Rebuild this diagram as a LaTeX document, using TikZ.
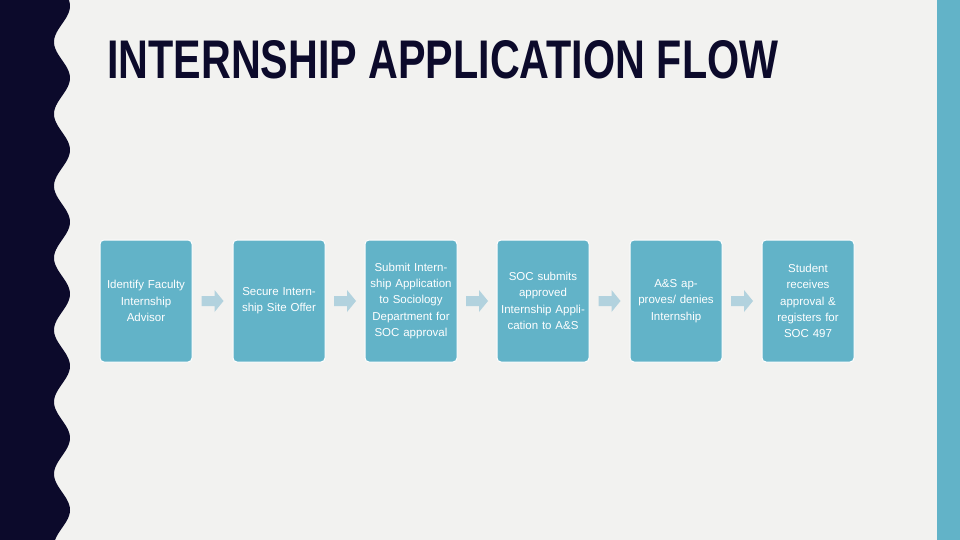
\documentclass[tikz,border=0pt]{standalone}
\usepackage{fontspec}
\setmainfont{Liberation Sans}
\usepackage{graphicx}
\definecolor{bg}{HTML}{F2F2F0}
\definecolor{navy}{HTML}{0C0A2B}
\definecolor{teal}{HTML}{62B3C8}
\definecolor{arr}{HTML}{B2D2DE}
\tikzset{
 stepbox/.style={draw=white, line width=1pt, fill=teal, rounded corners=4pt, minimum width=92pt, minimum height=122pt, text width=84pt, align=center, text=white, font=\fontsize{11.5}{16.3}\selectfont, inner sep=0pt},
 flowarrow/.style={fill=arr, draw=none}
}
\begin{document}
\begin{tikzpicture}[x=1pt,y=-1pt]
\fill[bg] (0,0) rectangle (960,540);
\useasboundingbox (0,0) rectangle (960,540);
\fill[navy] (0,0) -- plot[domain=0:540, samples=200, smooth] ({62+8*sin(\x*5+60)},\x) -- (0,540) -- cycle;
\fill[teal] (937,0) rectangle (960,540);
\node[anchor=north west, inner sep=0pt, text=navy] (title) at (107,40) {\resizebox{671pt}{38pt}{\bfseries INTERNSHIP APPLICATION FLOW}};
\node[stepbox] (s1) at (146,301) {Identify Faculty Internship Advisor};
\node[stepbox] (s2) at (279,301) {Secure Internship Site Offer};
\node[stepbox] (s3) at (411,301) {Submit Internship Application to Sociology Department for SOC approval};
\node[stepbox] (s4) at (543,301) {SOC submits approved Internship Application to A\&S};
\node[stepbox] (s5) at (676,301) {A\&S approves/ denies Internship};
\node[stepbox] (s6) at (808,301) {Student receives approval \& registers for SOC 497};
\foreach \a/\b in {s1/s2,s2/s3,s3/s4,s4/s5,s5/s6}{
  \path (\a.east) -- (\b.west) coordinate[pos=0.5] (m\a);
  \fill[flowarrow] ([shift={(-11,-5)}]m\a) -- ++(13,0) -- ++(0,-6) -- ++(9,11) -- ++(-9,11) -- ++(0,-6) -- ++(-13,0) -- cycle;
}
\end{tikzpicture}
\end{document}
